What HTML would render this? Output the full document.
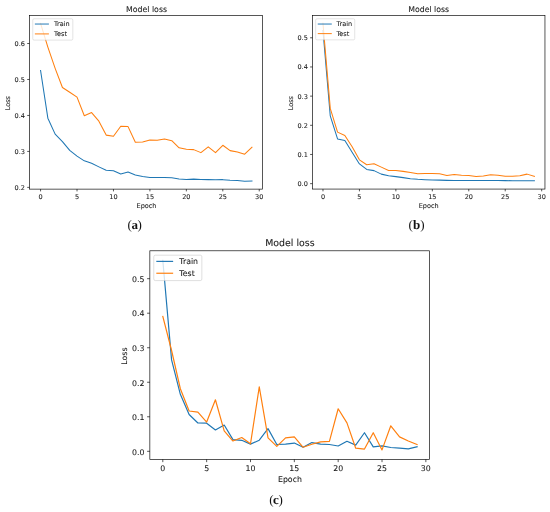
<!DOCTYPE html>
<html lang="en"><head><meta charset="utf-8"><title>Model loss</title>
<style>html,body{margin:0;padding:0;background:#fff}body{width:550px;height:512px;overflow:hidden}svg{display:block}text{text-rendering:geometricPrecision}</style>
</head><body>
<svg width="550" height="512" viewBox="0 0 550 512">
<rect width="550" height="512" fill="#fff"/>
<g transform="translate(-8.081 -11.558) scale(0.65244 0.65244)" font-family="'DejaVu Sans','Liberation Sans',sans-serif" font-size="10" fill="#1a1a1a" stroke="#1a1a1a" stroke-width="0.1">
<polyline points="74.57,125.74 85.74,198.85 96.91,223.32 108.08,234.74 119.26,248.19 130.43,257.06 141.6,264.28 152.77,267.98 163.95,273.49 175.12,278.78 186.29,279.45 197.47,284.41 208.64,281.43 219.81,286.01 230.98,288.38 242.16,289.92 253.33,289.92 264.5,289.75 275.67,290.2 286.85,291.91 298.02,292.79 309.19,292.24 320.36,292.79 331.54,293.06 342.71,293.34 353.88,293.06 365.05,293.89 376.23,294.33 387.4,295.49 398.57,295.1" fill="none" stroke="#1f77b4" stroke-width="1.6" stroke-linejoin="round" stroke-linecap="square"/>
<polyline points="74.57,53.52 85.74,89.91 96.91,122.44 108.08,151.76 119.26,159.04 130.43,166.65 141.6,195.21 152.77,190.3 163.95,203.48 175.12,224.81 186.29,226.47 197.47,211.19 208.64,211.75 219.81,235.67 230.98,235.45 242.16,232.14 253.33,232.7 264.5,230.66 275.67,233.41 286.85,244.27 298.02,246.59 309.19,247.03 320.36,251.66 331.54,242.73 342.71,251.66 353.88,240.41 365.05,248.57 376.23,250.56 387.4,254.09 398.57,243.5" fill="none" stroke="#ff7f0e" stroke-width="1.6" stroke-linejoin="round" stroke-linecap="square"/>
<path d="M74.57 307.584v3.5M130.43 307.584v3.5M186.29 307.584v3.5M242.16 307.584v3.5M298.02 307.584v3.5M353.88 307.584v3.5M409.74 307.584v3.5M57.6 304.92h-3.5M57.6 249.79h-3.5M57.6 194.66h-3.5M57.6 139.53h-3.5M57.6 84.4h-3.5" stroke="#000" stroke-width="1.012" fill="none"/>
<rect x="57.6" y="41.472" width="357.12" height="266.112" fill="none" stroke="#000" stroke-width="1.012"/>
<g text-anchor="middle">
<text x="74.57" y="322.18">0</text>
<text x="130.43" y="322.18">5</text>
<text x="186.29" y="322.18">10</text>
<text x="242.16" y="322.18">15</text>
<text x="298.02" y="322.18">20</text>
<text x="353.88" y="322.18">25</text>
<text x="409.74" y="322.18">30</text>
<text x="236.93" y="335.86">Epoch</text>
<text x="236.93" y="35.47" font-size="12">Model loss</text>
<text transform="translate(28 175.91) rotate(-90)">Loss</text>
</g><g text-anchor="end">
<text x="50.6" y="308.72">0.2</text>
<text x="50.6" y="253.59">0.3</text>
<text x="50.6" y="198.46">0.4</text>
<text x="50.6" y="143.33">0.5</text>
<text x="50.6" y="88.2">0.6</text>
</g>
<rect x="62.6" y="46.472" width="61.4" height="32.7" rx="2" ry="2" fill="#fff" fill-opacity="0.8" stroke="#ccc" stroke-opacity="0.8" stroke-width="1"/>
<path d="M66.6 54.57h20" stroke="#1f77b4" stroke-width="1.5" stroke-linecap="square"/>
<path d="M66.6 69.7h20" stroke="#ff7f0e" stroke-width="1.5" stroke-linecap="square"/>
<text x="95.3" y="58.2">Train</text><text x="95.3" y="73.2">Test</text>
</g>
<g transform="translate(274.890 -11.549) scale(0.65121 0.65222)" font-family="'DejaVu Sans','Liberation Sans',sans-serif" font-size="10" fill="#1a1a1a" stroke="#1a1a1a" stroke-width="0.1">
<polyline points="73.83,64.46 85.03,195.5 96.22,230.7 107.42,233.16 118.61,251.1 129.81,269.08 141,277.48 152.2,279.32 163.39,284.68 174.59,287.01 185.78,288.53 196.98,290.05 208.17,291.62 219.37,292.65 230.56,293.27 241.76,293.72 252.95,293.9 264.15,294.26 275.34,294.43 286.54,294.48 297.73,294.52 308.93,294.57 320.12,294.57 331.32,294.61 342.51,294.61 353.71,294.66 364.9,294.7 376.1,294.75 387.29,294.79 398.49,294.84" fill="none" stroke="#1f77b4" stroke-width="1.6" stroke-linejoin="round" stroke-linecap="square"/>
<polyline points="73.83,53.37 85.03,183.88 96.22,220.28 107.42,225.34 118.61,242.69 129.81,262.77 141,270.28 152.2,268.76 163.39,273.95 174.59,279 185.78,279 196.98,280.48 208.17,282.27 219.37,284.24 230.56,283.84 241.76,283.61 252.95,284.24 264.15,286.74 275.34,285.13 286.54,286.3 297.73,286.74 308.93,288.44 320.12,287.64 331.32,285.49 342.51,286.3 353.71,288.08 364.9,288.08 376.1,287.19 387.29,284.68 398.49,288.08" fill="none" stroke="#ff7f0e" stroke-width="1.6" stroke-linejoin="round" stroke-linecap="square"/>
<path d="M73.83 307.584v3.5M129.81 307.584v3.5M185.78 307.584v3.5M241.76 307.584v3.5M297.73 307.584v3.5M353.71 307.584v3.5M409.68 307.584v3.5M57.6 299.27h-3.5M57.6 254.54h-3.5M57.6 209.82h-3.5M57.6 165.09h-3.5M57.6 120.37h-3.5M57.6 75.64h-3.5" stroke="#000" stroke-width="1.014" fill="none"/>
<rect x="57.6" y="41.472" width="357.12" height="266.112" fill="none" stroke="#000" stroke-width="1.014"/>
<g text-anchor="middle">
<text x="73.83" y="322.18">0</text>
<text x="129.81" y="322.18">5</text>
<text x="185.78" y="322.18">10</text>
<text x="241.76" y="322.18">15</text>
<text x="297.73" y="322.18">20</text>
<text x="353.71" y="322.18">25</text>
<text x="409.68" y="322.18">30</text>
<text x="236.16" y="335.86">Epoch</text>
<text x="236.16" y="35.47" font-size="12">Model loss</text>
<text transform="translate(28 175.91) rotate(-90)">Loss</text>
</g><g text-anchor="end">
<text x="50.6" y="303.07">0.0</text>
<text x="50.6" y="258.34">0.1</text>
<text x="50.6" y="213.62">0.2</text>
<text x="50.6" y="168.89">0.3</text>
<text x="50.6" y="124.17">0.4</text>
<text x="50.6" y="79.44">0.5</text>
</g>
<rect x="62.6" y="46.472" width="59.99" height="32.36" rx="2" ry="2" fill="#fff" fill-opacity="0.8" stroke="#ccc" stroke-opacity="0.8" stroke-width="1"/>
<path d="M66.6 54.57h20" stroke="#1f77b4" stroke-width="1.5" stroke-linecap="square"/>
<path d="M66.6 69.25h20" stroke="#ff7f0e" stroke-width="1.5" stroke-linecap="square"/>
<text x="94.6" y="58.07">Train</text><text x="94.6" y="72.75">Test</text>
</g>
<g transform="translate(104.737 218.291) scale(0.78321 0.78389)" font-family="'DejaVu Sans','Liberation Sans',sans-serif" font-size="10" fill="#1a1a1a" stroke="#1a1a1a" stroke-width="0.1">
<polyline points="74.15,53.57 85.35,180.63 96.54,224.58 107.74,250.35 118.93,261.09 130.13,261.4 141.32,270.08 152.52,263.78 163.71,282.32 174.91,283.24 186.1,288.13 197.3,283.07 208.49,268.36 219.69,288.62 230.88,288.18 242.08,286.77 253.27,292.1 264.47,286.11 275.66,288.18 286.86,288.62 298.05,290.51 309.25,284.48 320.44,289.32 331.64,273.56 342.83,291.66 354.03,290.25 365.22,292.36 376.42,293.29 387.61,294.17 398.81,291.39" fill="none" stroke="#1f77b4" stroke-width="1.5" stroke-linejoin="round" stroke-linecap="square"/>
<polyline points="74.15,125.27 85.35,168.65 96.54,217.45 107.74,245.85 118.93,247.35 130.13,259.9 141.32,231.5 152.52,271.27 163.71,284.13 174.91,279.63 186.1,287.69 197.3,215.07 208.49,280.07 219.69,290.95 230.88,280.07 242.08,278.88 253.27,292.1 264.47,288.18 275.66,285.14 286.86,284.48 298.05,242.95 309.25,261.05 320.44,293.29 331.64,294.43 342.83,273.56 354.03,295.49 365.22,264.75 376.42,278.88 387.61,284.04 398.81,288.62" fill="none" stroke="#ff7f0e" stroke-width="1.5" stroke-linejoin="round" stroke-linecap="square"/>
<path d="M74.15 307.584v3.5M130.13 307.584v3.5M186.1 307.584v3.5M242.08 307.584v3.5M298.05 307.584v3.5M354.03 307.584v3.5M410 307.584v3.5M57.6 297.25h-3.5M57.6 253.21h-3.5M57.6 209.17h-3.5M57.6 165.13h-3.5M57.6 121.08h-3.5M57.6 77.04h-3.5" stroke="#000" stroke-width="0.843" fill="none"/>
<rect x="57.6" y="41.472" width="357.12" height="266.112" fill="none" stroke="#000" stroke-width="0.843"/>
<g text-anchor="middle">
<text x="74.15" y="322.56">0</text>
<text x="130.13" y="322.56">5</text>
<text x="186.1" y="322.56">10</text>
<text x="242.08" y="322.56">15</text>
<text x="298.05" y="322.56">20</text>
<text x="354.03" y="322.56">25</text>
<text x="410" y="322.56">30</text>
<text x="236.48" y="336.75">Epoch</text>
<text x="236.48" y="35.47" font-size="12">Model loss</text>
<text transform="translate(28.62 175.8) rotate(-90)">Loss</text>
</g><g text-anchor="end">
<text x="50.6" y="301.43">0.0</text>
<text x="50.6" y="257.39">0.1</text>
<text x="50.6" y="213.35">0.2</text>
<text x="50.6" y="169.31">0.3</text>
<text x="50.6" y="125.27">0.4</text>
<text x="50.6" y="81.22">0.5</text>
</g>
<rect x="62.6" y="47.07" width="61.4" height="32.4" rx="2" ry="2" fill="#fff" fill-opacity="0.8" stroke="#ccc" stroke-opacity="0.8" stroke-width="1"/>
<path d="M66.6 54.97h20" stroke="#1f77b4" stroke-width="1.5" stroke-linecap="square"/>
<path d="M66.6 70.1h20" stroke="#ff7f0e" stroke-width="1.5" stroke-linecap="square"/>
<text x="95.2" y="58.4">Train</text><text x="95.2" y="73.75">Test</text>
</g>
<g font-family="'Liberation Serif','DejaVu Serif',serif" font-size="13" text-anchor="middle" fill="#111">
<text x="134.5" y="228.9" letter-spacing="-0.4">(<tspan font-weight="bold">a</tspan>)</text>
<text x="416.7" y="228.9" letter-spacing="0.1">(<tspan font-weight="bold">b</tspan>)</text>
<text x="275.8" y="504.2" letter-spacing="-0.4">(<tspan font-weight="bold">c</tspan>)</text>
</g>
</svg>
</body></html>
